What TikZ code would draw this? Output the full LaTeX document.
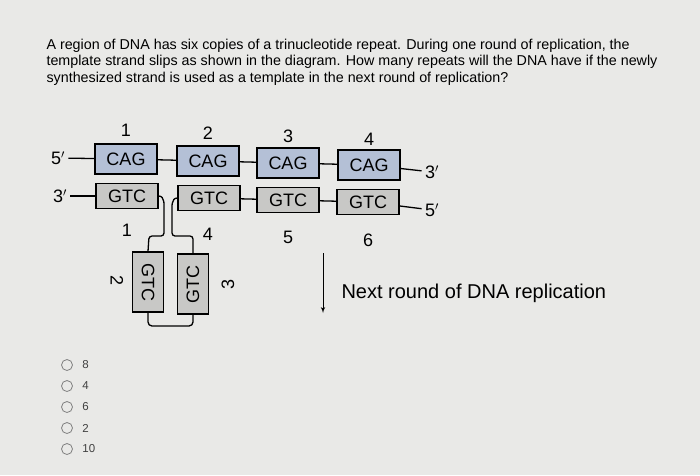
\documentclass[tikz,border=0pt]{standalone}
\usepackage{fontspec}
\setmainfont{Liberation Sans}
\usetikzlibrary{arrows}
\definecolor{bg}{HTML}{E9E9E7}
\definecolor{cagfill}{HTML}{B4C0D6}
\definecolor{gtcfill}{HTML}{C8C8C6}
\tikzstyle{line} = [draw, line width=1.3pt]
\tikzstyle{cag} = [draw, line width=1.2pt, fill=cagfill, minimum width=62pt, minimum height=30pt, inner sep=0pt, font=\fontsize{18}{18}\selectfont]
\tikzstyle{gtc} = [draw, line width=1.2pt, fill=gtcfill, minimum width=62pt, minimum height=25pt, inner sep=0pt, font=\fontsize{18}{18}\selectfont]
\tikzstyle{num} = [font=\fontsize{18}{18}\selectfont]
\tikzstyle{opt} = [draw=gray, line width=0.8pt, circle, minimum size=11pt, inner sep=0pt]

\begin{document}
\begin{tikzpicture}[x=1pt,y=-1pt]
\useasboundingbox[fill=bg] (0,0) rectangle (700,475);
\node (q1) at (43,46) [anchor=west, font=\fontsize{14.3}{14.3}\selectfont] {A region of DNA has six copies of a trinucleotide repeat. During one round of replication, the};
\node (q2) at (43,62) [anchor=west, font=\fontsize{14.3}{14.3}\selectfont] {template strand slips as shown in the diagram. How many repeats will the DNA have if the newly};
\node (q3) at (43,79) [anchor=west, font=\fontsize{14.3}{14.3}\selectfont] {synthesized strand is used as a template in the next round of replication?};
% top strand
\node (c1) at (126,159) [cag] {CAG};
\node (c2) at (208,161) [cag] {CAG};
\node (c3) at (288,163) [cag] {CAG};
\node (c4) at (369,165) [cag] {CAG};
\node (t5) at (58,158) [num] {5$'$};
\node (t3) at (432,172) [num] {3$'$};
\node (n1) at (126,130) [num] {1};
\node (n2) at (208,133) [num] {2};
\node (n3) at (288,136) [num] {3};
\node (n4) at (369,139) [num] {4};
% bottom strand
\node (g1) at (127,196) [gtc] {GTC};
\node (g4) at (209,198) [gtc] {GTC};
\node (g5) at (288,200) [gtc] {GTC};
\node (g6) at (368,202) [gtc] {GTC};
\node (b3) at (60,196) [num] {3$'$};
\node (b5) at (432,210) [num] {5$'$};
\node (m1) at (127,230) [num] {1};
\node (m4) at (208,234) [num] {4};
\node (m5) at (288,237) [num] {5};
\node (m6) at (368,240) [num] {6};
% looped out repeats
\node (g2) at (148,282) [gtc, minimum width=60pt, minimum height=31pt, rotate=-90] {GTC};
\node (g3) at (193,284) [gtc, minimum width=60pt, minimum height=31pt, rotate=90] {GTC};
\node (m2) at (117,280) [num, rotate=-90] {2};
\node (m3) at (228,284) [num, rotate=90] {3};
% draw lines
\path [line] (t5) -- (c1);
\path [line] (c1) -- (c2);
\path [line] (c2) -- (c3);
\path [line] (c3) -- (c4);
\path [line] (c4) -- (t3);
\path [line] (b3) -- (g1);
\path [line] (g4) -- (g5);
\path [line] (g5) -- (g6);
\path [line] (g6) -- (b5);
\path [line] (g1.east) to[out=0,in=90] (164,212) -- (164,232) [rounded corners=3pt] -- (164,236) -- (149,236) -- (g2.west);
\path [line] (g4.west) to[out=180,in=90] (172,214) -- (172,232) [rounded corners=3pt] -- (172,236) -- (193,236) -- (g3.east);
\path [line, rounded corners=4pt] (g2.east) -- (148,326) -- (193,326) -- (g3.west);
% next round
\node (ar) at (323,253) {};
\coordinate (ae) at (323,313);
\path [draw, line width=1pt, -latex'] (ar.center) -- (ae);
\node (nr) at (338,293) [anchor=west, font=\fontsize{20}{20}\selectfont] {Next round of DNA replication};
% options
\foreach \i/\v in {0/8,1/4,2/6,3/2,4/10}
{
  \node (o\i) at (67,365+21*\i) [opt] {};
  \node (v\i) at (o\i.east) [anchor=west, xshift=6pt, text=darkgray, font=\fontsize{11.5}{11.5}\selectfont] {\v};
}
\end{tikzpicture}
\end{document}
